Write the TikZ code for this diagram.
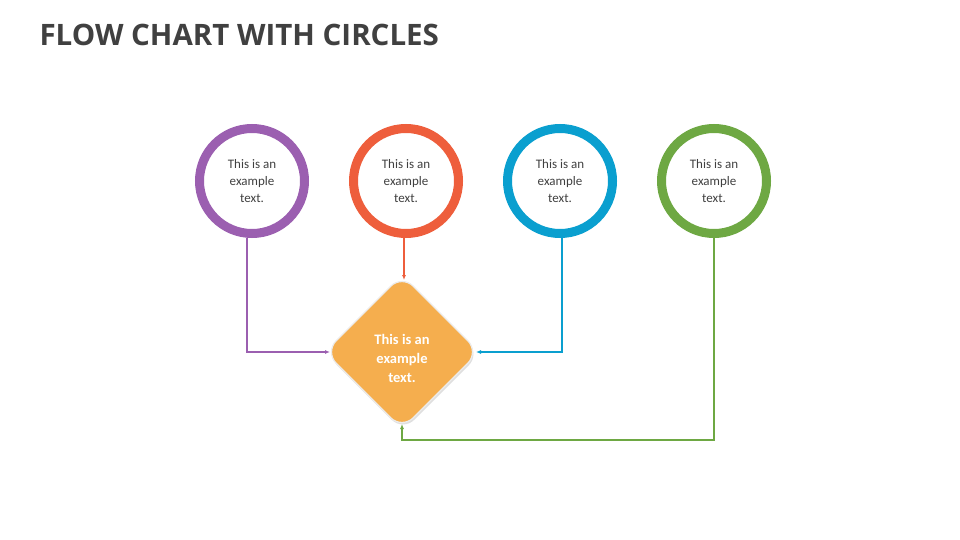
\documentclass[tikz,border=0pt]{standalone}
\usepackage{fontspec}
\setmainfont{Carlito}
\newfontfamily\titlefont{Open Sans}
\usetikzlibrary{arrows.meta,shadows}
\definecolor{cpur}{HTML}{9B5FB0}
\definecolor{cora}{HTML}{EE5E3C}
\definecolor{cblu}{HTML}{0A9FCF}
\definecolor{cgre}{HTML}{6EA843}
\definecolor{cdia}{HTML}{F5AE4E}
\definecolor{ctit}{HTML}{404040}
\tikzset{
 ring/.style={circle,draw=#1,line width=9pt,fill=white,minimum size=105pt,inner sep=0pt,
   align=center,font=\fontsize{13}{17}\selectfont,text=ctit,drop shadow={opacity=0.3,shadow xshift=2pt,shadow yshift=-2pt}},
 conn/.style={draw=#1,line width=1.3pt,-{Latex[length=5pt,width=4pt]}}
}
\begin{document}
\begin{tikzpicture}[x=1pt,y=-1pt]
\useasboundingbox[fill=white] (0,0) rectangle (960,540);
\node[anchor=west,font=\titlefont\bfseries\fontsize{29.5}{32}\selectfont,text=ctit] (title) at (36,35) {FLOW CHART WITH CIRCLES};
\node[ring=cpur] (c1) at (252,181) {This is an\\example\\text.};
\node[ring=cora] (c2) at (406,181) {This is an\\example\\text.};
\node[ring=cblu] (c3) at (560,181) {This is an\\example\\text.};
\node[ring=cgre] (c4) at (714,181) {This is an\\example\\text.};
\node[draw=white!85!gray,line width=1.2pt,fill=cdia,rounded corners=16pt,minimum size=109pt,rotate=45,
  drop shadow={opacity=0.25,shadow xshift=1pt,shadow yshift=-2pt}] (d) at (402,352) {};
\node[font=\bfseries\fontsize{14.5}{19}\selectfont,text=white,align=center] (dt) at (402,358) {This is an\\example\\text.};
\coordinate (dl) at (330,352);
\coordinate (dr) at (476,352);
\coordinate (dtop) at (404,280);
\coordinate (db) at (402,424);
\draw[conn=cpur] (c1.south) ++(-5,0) |- (dl);
\draw[conn=cora] (c2.south) ++(-2,0) -- (dtop);
\draw[conn=cblu] (c3.south) ++(2,0) |- (dr);
\draw[conn=cgre] (c4.south) -- (714,440) -| (db);
\end{tikzpicture}
\end{document}
